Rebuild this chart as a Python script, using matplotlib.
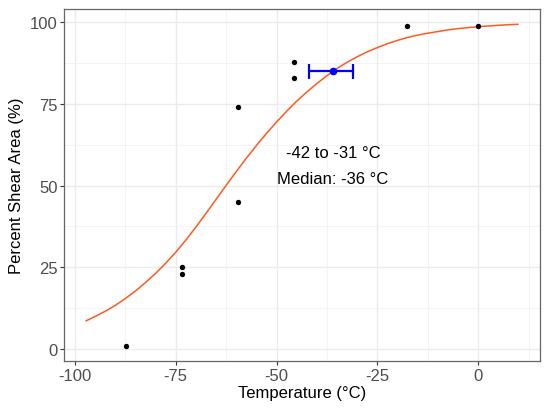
import matplotlib
matplotlib.use("Agg")
import matplotlib.pyplot as plt
import numpy as np

plt.rcParams['font.family'] = ['Liberation Sans', 'DejaVu Sans']
plt.rcParams['axes.unicode_minus'] = False

# Observed data
temp = [-87.3, -73.4, -73.4, -59.5, -59.5, -45.6, -45.6, -17.6, 0.0]
shear = [1, 25, 23, 74, 45, 88, 83, 99, 99]

# Fitted transition curve
curve_t = [-97.2, -95, -92.5, -90, -87.5, -85, -82.5, -80, -77.5, -75, -72.5,
           -70, -67.5, -65, -62.5, -60, -57.5, -55, -52.5, -50, -47.5, -45,
           -42.5, -40, -37.5, -35, -32.5, -30, -27.5, -25, -22.5, -20, -17.5,
           -15, -12.5, -10, -7.5, -5, -2.5, 0, 2.5, 5, 7.5, 9.8]
curve_y = [8.6, 9.9, 11.5, 13.3, 15.4, 17.7, 20.3, 23.1, 26.2, 29.6, 33.3,
           37.3, 41.5, 45.8, 50.1, 54.3, 58.4, 62.3, 66.0, 69.5, 72.8, 75.9,
           78.7, 81.3, 83.7, 85.9, 87.8, 89.5, 91.0, 92.3, 93.5, 94.5, 95.4,
           96.1, 96.7, 97.2, 97.7, 98.1, 98.4, 98.7, 98.9, 99.1, 99.3, 99.4]

# Median transition temperature and range
median_t = -36
median_y = 85
range_lo = -42
range_hi = -31
label_range = "-42 to -31 °C"
label_median = "Median: -36 °C"

xticks = [-100, -75, -50, -25, 0]
yticks = [0, 25, 50, 75, 100]

fig = plt.figure(figsize=(5.5, 4.1), dpi=100)
ax = fig.add_axes([0.117, 0.118, 0.865, 0.8576])

ax.set_xlim(-102.6, 15.3)
ax.set_ylim(-3.6, 104.1)

# grid (ggplot theme_bw style)
ax.set_xticks(xticks)
ax.set_yticks(yticks)
ax.set_xticks([-87.5, -62.5, -37.5, -12.5, 12.5], minor=True)
ax.set_yticks([12.5, 37.5, 62.5, 87.5], minor=True)
ax.grid(which='major', color='#EBEBEB', linewidth=1.0)
ax.grid(which='minor', color='#F2F2F2', linewidth=0.6)
ax.set_axisbelow(True)
ax.tick_params(which='minor', length=0)
ax.tick_params(which='major', length=3, width=0.8, color='#333333',
               labelsize=12, labelcolor='#4D4D4D', pad=2)

for s in ax.spines.values():
    s.set_color('#666666')
    s.set_linewidth(0.9)

ax.plot(curve_t, curve_y, color='#FF5A1F', linewidth=1.1, zorder=2,
        solid_joinstyle='round')
ax.scatter(temp, shear, s=15, color='black', zorder=3, linewidths=0)

ax.errorbar([median_t], [median_y], xerr=[[median_t - range_lo], [range_hi - median_t]],
            fmt='o', color='#0000FF', ecolor='#0000FF', elinewidth=1.6,
            capsize=5.4, capthick=1.6, markersize=4.5, zorder=4)

ax.text(median_t, 60, label_range, ha='center', va='center', fontsize=12, color='black')
ax.text(median_t, 52.3, label_median, ha='center', va='center', fontsize=12, color='black')

ax.set_xlabel("Temperature (°C)", fontsize=12, color='black', labelpad=2)
ax.set_ylabel("Percent Shear Area (%)", fontsize=12, color='black', labelpad=4)

fig.savefig("out.png", dpi=100)
